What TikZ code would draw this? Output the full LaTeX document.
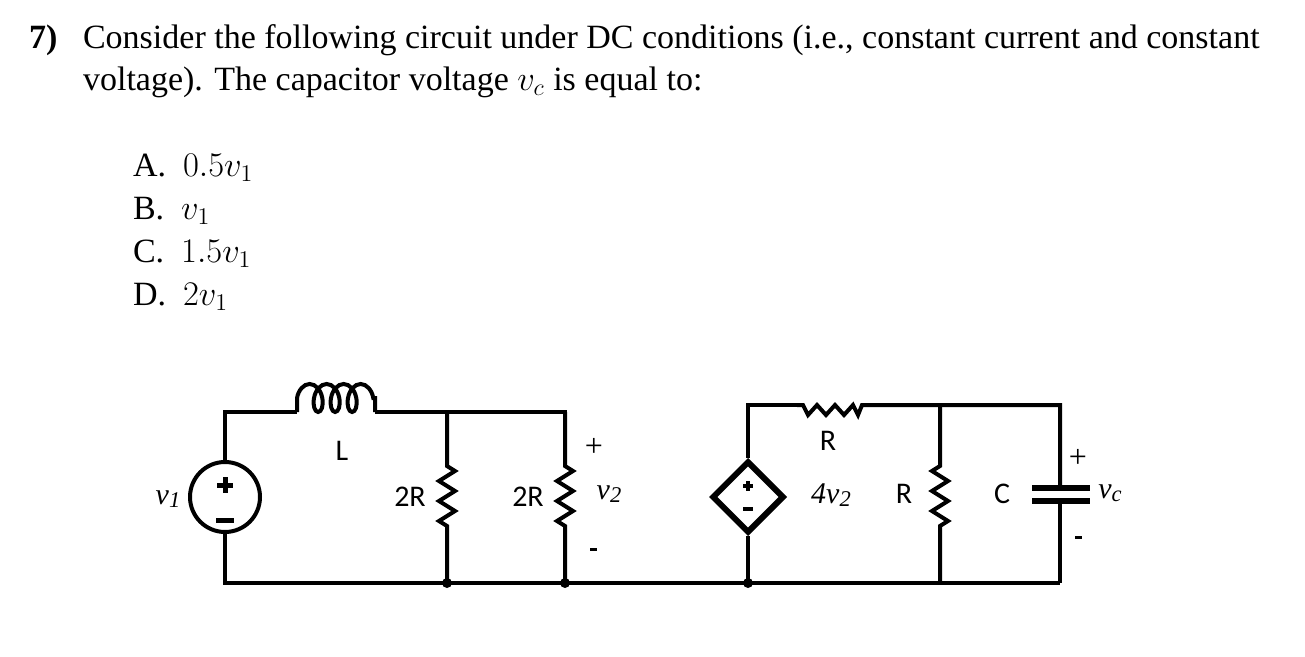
\documentclass[tikz,border=0pt]{standalone}
\usepackage{fontspec}
\setmainfont{Liberation Serif}
\newfontfamily\calfnt{Carlito}
\usetikzlibrary{decorations.pathmorphing,shapes.geometric}
\newcommand{\ivar}[2]{\textit{#1}\raisebox{-0.25ex}{\scalebox{0.75}{\textit{#2}}}}
\begin{document}
\begin{tikzpicture}[x=0.5pt,y=-0.5pt,
  w/.style={line width=2pt},
  lab/.style={font=\calfnt\fontsize{15}{15}\selectfont},
  ilab/.style={font=\fontsize{15}{15}\selectfont},
  q/.style={font=\fontsize{17}{19}\selectfont, anchor=west},
  dot/.style={circle,fill,inner sep=0pt,minimum size=5pt}]
\useasboundingbox (0,0) rectangle (1305,657);
% text
\node[q,font=\bfseries\fontsize{17}{19}\selectfont] (n7) at (22,40) {7)};
\node[q] (t1) at (76,40) {Consider the following circuit under DC conditions (i.e., constant current and constant};
\node[q] (t2) at (76,82) {voltage). The capacitor voltage $v_c$ is equal to:};
\node[q] (oa) at (126,168) {A.\ \ $0.5v_1$};
\node[q] (ob) at (126,211) {B.\ \ $v_1$};
\node[q] (oc) at (126,254) {C.\ \ $1.5v_1$};
\node[q] (od) at (126,297) {D.\ \ $2v_1$};
% coordinates
\coordinate (l1) at (297,412);
\coordinate (l2) at (375,412);
\coordinate (t2r) at (565,412);
\coordinate (b1) at (447,583);
\coordinate (b2) at (565,583);
\coordinate (bd) at (748,583);
\coordinate (be) at (1060,583);
\coordinate (bm) at (940,583);
\coordinate (td) at (748,405);
\coordinate (r1) at (797,405);
\coordinate (tm) at (940,405);
\coordinate (te) at (1060,405);
% source
\node[circle,draw,w,minimum size=70pt*0.5,inner sep=0pt] (vs) at (225,497) {};
\draw[line width=2.5pt] (217,485) -- (233,485) (225,477) -- (225,493);
\draw[line width=2.5pt] (216,520) -- (234,520);
\node[ilab] (v1) at (168,499) {\ivar{v}{1}};
\draw[w] (vs) |- (l1) ;
\draw[w] (vs) |- (be);
% inductor
\draw[w] (l1) -- ++(0,-14) decorate[decoration={coil,aspect=0.6,segment length=17*0.5pt,amplitude=14*0.5pt}]{ -- ++(78,0)} -- ++(0,14);
\draw[w] (l2) -- (t2r) -- (565,445);
\node[lab] (L) at (342,451) {L};
% resistors
\foreach \x in {447,565}{
 \draw[w] (\x,412) -- (\x,466) -- ++(8,5) -- ++(-16,10) -- ++(16,10) -- ++(-16,10) -- ++(16,10) -- ++(-16,10) -- ++(8,5) -- (\x,583);
}
\node[dot] (d1) at (b1) {};
\node[dot] (d2) at (b2) {};
\node[dot] (d3) at (bd) {};
\node[lab] (R2a) at (410,497) {2R};
\node[lab] (R2b) at (528,497) {2R};
\node[font=\fontsize{16}{16}\selectfont] (p2) at (594,447) {+};
\node[ilab] (v2) at (609,494) {\ivar{v}{2}};
\draw[line width=1.5pt] (590,549) -- (597,549);
% dependent source
\node[diamond,draw,line width=3pt,minimum size=72pt*0.5,inner sep=0pt,aspect=1] (ds) at (748,497) {};
\draw[line width=2pt] (743,486) -- (753,486) (748,481) -- (748,491);
\draw[line width=2pt] (743,509) -- (753,509);
\draw[w] (ds) -- (td) -- (r1);
\draw[w] (ds) -- (bd);
\draw[w] (r1) -- ++(6,0) -- ++(5,10) -- ++(9,-10)-- ++(9,10) -- ++(9,-10) -- ++(9,10) -- ++(9,-10) -- ++(5,10) -- ++(4,-10) -- (te) -- (1060,488);
\node[lab] (Rt) at (828,441) {R};
\node[ilab] (g) at (831,495) {\textit{4}\ivar{v}{2}};
\draw[w] (tm) -- (940,466) -- ++(-8,5) -- ++(16,10) -- ++(-16,10) -- ++(16,10) -- ++(-16,10) -- ++(16,10) -- ++(-8,5) -- (bm);
\node[lab] (Rv) at (904,494) {R};
% capacitor
\draw[line width=3pt] (1032,488) -- (1090,488);
\draw[line width=3pt] (1032,501) -- (1090,501);
\draw[w] (1060,501) -- (be);
\node[lab] (C) at (1002,494) {C};
\node[font=\fontsize{16}{16}\selectfont] (pc) at (1078,458) {+};
\node[ilab] (vc) at (1110,493) {\ivar{v}{c}};
\draw[line width=1.5pt] (1075,537) -- (1082,537);
\end{tikzpicture}
\end{document}
